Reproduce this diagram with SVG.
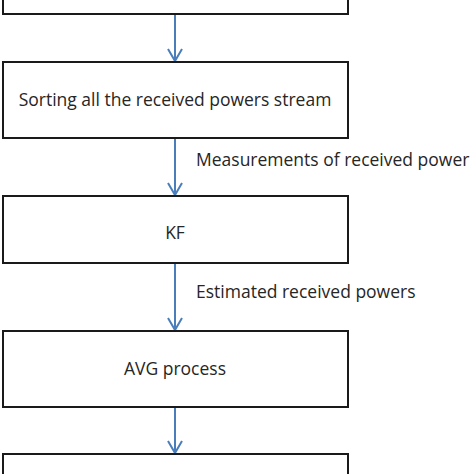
<svg xmlns="http://www.w3.org/2000/svg" width="474" height="474" viewBox="0 0 474 474">
<style>
.box{fill:#fff;stroke:#1a1a1a;stroke-width:2}
.t{font-family:"Open Sans","Liberation Sans",sans-serif;font-size:17.5px;fill:#262626;text-anchor:middle}
.l{font-family:"Open Sans","Liberation Sans",sans-serif;font-size:17.5px;fill:#262626}
.c{stroke:#4a7ebb;stroke-width:2;fill:none}
</style>
<defs>
<marker id="ah" markerWidth="16" markerHeight="16" refX="13" refY="8" orient="auto" markerUnits="userSpaceOnUse" viewBox="0 0 16 16">
<path d="M1,1 L13,8 L1,15" fill="none" stroke="#4a7ebb" stroke-width="2"/>
</marker>
</defs>
<rect width="474" height="474" fill="#fff"/>
<g id="connectors">
<line class="c" x1="175" y1="14" x2="175" y2="61" marker-end="url(#ah)"/>
<line class="c" x1="175" y1="138" x2="175" y2="195" marker-end="url(#ah)"/>
<line class="c" x1="175" y1="263" x2="175" y2="330" marker-end="url(#ah)"/>
<line class="c" x1="175" y1="407" x2="175" y2="453" marker-end="url(#ah)"/>
<text class="l" x="196" y="166">Measurements of received power</text>
<text class="l" x="196" y="298">Estimated received powers</text>
</g>
<g id="n0"><rect class="box" x="3" y="-10" width="345" height="24"/></g>
<g id="n1"><rect class="box" x="3" y="62" width="345" height="76"/><text class="t" x="175" y="106">Sorting all the received powers stream</text></g>
<g id="n2"><rect class="box" x="3" y="196" width="345" height="67"/><text class="t" x="175" y="239">KF</text></g>
<g id="n3"><rect class="box" x="3" y="331" width="345" height="76"/><text class="t" x="175" y="375">AVG process</text></g>
<g id="n4"><rect class="box" x="3" y="454" width="345" height="40"/></g>
</svg>
